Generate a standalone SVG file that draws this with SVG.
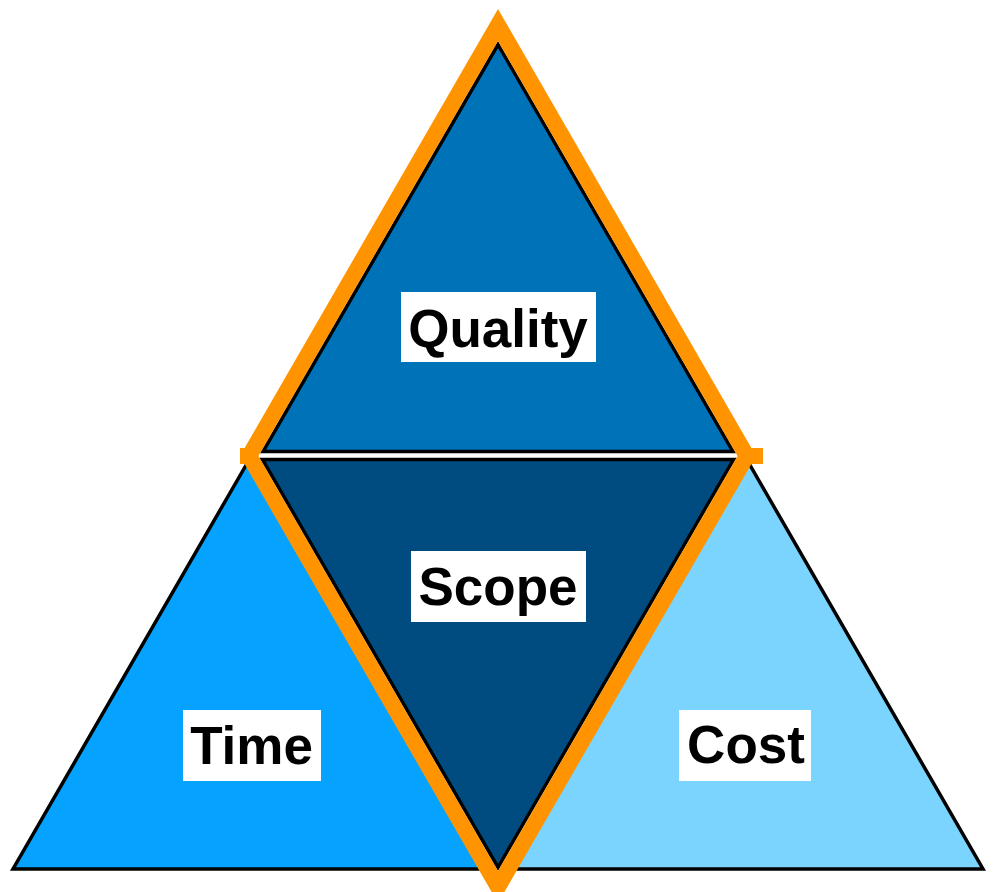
<svg xmlns="http://www.w3.org/2000/svg" width="996" height="892" viewBox="0 0 996 892">
<style>
.tri{stroke:#000;stroke-width:3.5;stroke-linejoin:miter}
.box{fill:#fff}
.lbl{font-family:"Liberation Sans",Arial,sans-serif;font-weight:bold;font-size:53px;fill:#000;text-anchor:middle}
.orange{fill:none;stroke:#FF9400;stroke-width:16;stroke-linejoin:miter;stroke-miterlimit:10}
</style>
<rect width="996" height="892" fill="#fff"/>
<g id="time">
<polygon class="tri" points="249,460 13,869 485,869" fill="#05A3FF"/>
</g>
<g id="cost">
<polygon class="tri" points="747,460 511,869 983,869" fill="#7AD4FE"/>
</g>
<g id="scope">
<polygon class="tri" points="262.4,459.5 733.6,459.5 498,867.5" fill="#004B7F"/>
</g>
<g id="quality">
<polygon class="tri" points="498,44.5 263,451.5 733,451.5" fill="#0072B8"/>
</g>
<g id="connectors">
<polygon class="orange" points="498,25 746.8,456 498,887 249.2,456"/>
<rect x="240" y="448" width="18" height="16" fill="#FF9400"/>
<rect x="740" y="448" width="23" height="16" fill="#FF9400"/>
</g>
<g id="labels">
<rect class="box" x="401" y="292" width="195" height="70"/>
<text class="lbl" x="498" y="347">Quality</text>
<rect class="box" x="411" y="551" width="175" height="71"/>
<text class="lbl" x="498" y="605">Scope</text>
<rect class="box" x="183" y="710" width="138" height="71"/>
<text class="lbl" x="251.5" y="764">Time</text>
<rect class="box" x="679" y="710" width="132" height="71"/>
<text class="lbl" x="746" y="763">Cost</text>
</g>
</svg>
